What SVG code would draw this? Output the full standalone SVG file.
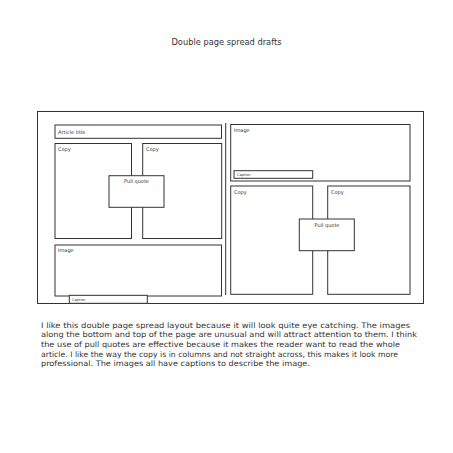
<svg xmlns="http://www.w3.org/2000/svg" width="453" height="453" viewBox="0 0 453 453">
<style>
.b{fill:#fff;stroke:#333;stroke-width:1}
.t{font-family:"DejaVu Sans","Liberation Sans",sans-serif;fill:#333}
.s{font-size:5px}
.xs{font-size:3.5px}
.p{font-size:7.6px}
</style>
<rect width="453" height="453" fill="#fff"/>
<text class="t" x="226.5" y="45" font-size="8" text-anchor="middle" textLength="110" lengthAdjust="spacingAndGlyphs">Double page spread drafts</text>
<g id="page"><rect class="b" x="37.5" y="111.5" width="386" height="192"/></g>
<g id="connectors"><line x1="225.7" y1="123" x2="225.7" y2="295" stroke="#333" stroke-width="1"/></g>
<g id="article-title"><rect class="b" x="55" y="125" width="166.5" height="13.3"/><text class="t s" x="58" y="133.5">Article title</text></g>
<g id="copy-l1"><rect class="b" x="55" y="143.5" width="76.5" height="95"/><text class="t s" x="58" y="151">Copy</text></g>
<g id="copy-l2"><rect class="b" x="142.7" y="143.5" width="79" height="95"/><text class="t s" x="146" y="151">Copy</text></g>
<g id="pull-quote-l"><rect class="b" x="109" y="175.7" width="55" height="31.6"/><text class="t s" x="136.5" y="183" text-anchor="middle">Pull quote</text></g>
<g id="image-l"><rect class="b" x="55" y="245" width="166.5" height="51"/><text class="t s" x="58" y="252">Image</text></g>
<g id="caption-l"><rect class="b" x="69.3" y="295.3" width="78" height="8"/><text class="t xs" x="72" y="301">Caption</text></g>
<g id="image-r"><rect class="b" x="230.7" y="124.5" width="179.3" height="56.5"/><text class="t s" x="234" y="132">Image</text></g>
<g id="caption-r"><rect class="b" x="234" y="170.7" width="78.7" height="7.6"/><text class="t xs" x="237" y="176">Caption</text></g>
<g id="copy-r1"><rect class="b" x="230.7" y="186" width="82" height="108.3"/><text class="t s" x="234" y="193.5">Copy</text></g>
<g id="copy-r2"><rect class="b" x="327.7" y="186" width="82.3" height="108.3"/><text class="t s" x="331" y="193.5">Copy</text></g>
<g id="pull-quote-r"><rect class="b" x="299.3" y="219" width="55" height="31.7"/><text class="t s" x="327" y="226.5" text-anchor="middle">Pull quote</text></g>
<g id="paragraph" class="t p">
<text x="41" y="327.5" textLength="369" lengthAdjust="spacingAndGlyphs">I like this double page spread layout because it will look quite eye catching. The images</text>
<text x="41" y="337.2" textLength="376" lengthAdjust="spacingAndGlyphs">along the bottom and top of the page are unusual and will attract attention to them. I think</text>
<text x="41" y="346.9" textLength="359" lengthAdjust="spacingAndGlyphs">the use of pull quotes are effective because it makes the reader want to read the whole</text>
<text x="41" y="356.6" textLength="357" lengthAdjust="spacingAndGlyphs">article. I like the way the copy is in columns and not straight across, this makes it look more</text>
<text x="41" y="366.3" textLength="269" lengthAdjust="spacingAndGlyphs">professional. The images all have captions to describe the image.</text>
</g>
</svg>
